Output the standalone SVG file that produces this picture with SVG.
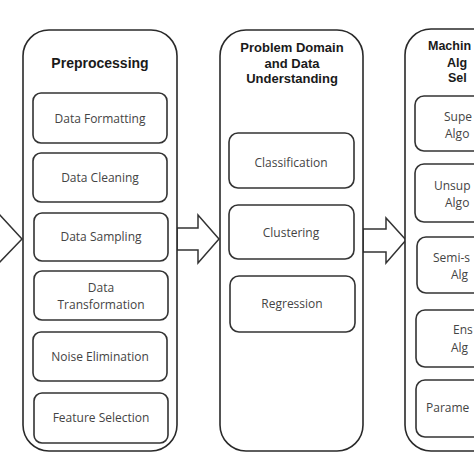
<svg xmlns="http://www.w3.org/2000/svg" width="474" height="474" viewBox="0 0 474 474">
<style>
.panel{fill:#fff;stroke:#2a2a2a;stroke-width:1.6}
.box{fill:#fff;stroke:#333;stroke-width:1.6}
.arrow{fill:#fff;stroke:#333;stroke-width:1.5;stroke-linejoin:miter}
.title{font-family:"Liberation Sans",Arial,sans-serif;font-weight:bold;fill:#1a1a1a;text-anchor:middle}
.lbl{font-family:"Open Sans","Liberation Sans",sans-serif;font-size:12px;fill:#444;text-anchor:middle}
.frag{font-family:"Open Sans","Liberation Sans",sans-serif;font-size:12px;fill:#444}
.ftitle{font-family:"Liberation Sans",Arial,sans-serif;font-weight:bold;font-size:12.5px;fill:#1a1a1a}
</style>
<rect width="474" height="474" fill="#fff"/>
<g id="connectors">
<polygon class="arrow" points="-30,228 -1,228 -1,214 22,239 -1,263 -1,250 -30,250"/>
<polygon class="arrow" points="177,228 198,228 198,215 219,239 198,263 198,250 177,250"/>
<polygon class="arrow" points="363,229 386,229 386,218 406,240 386,263 386,252 363,252"/>
</g>
<g id="preprocessing">
<rect class="panel" x="23" y="30" width="154" height="421" rx="26"/>
<text class="title" x="100" y="68" font-size="14">Preprocessing</text>
</g>
<g id="data-formatting"><rect class="box" x="33" y="93" width="134" height="50" rx="8"/><text class="lbl" x="100" y="123">Data Formatting</text></g>
<g id="data-cleaning"><rect class="box" x="33" y="153" width="134" height="49" rx="8"/><text class="lbl" x="100" y="182">Data Cleaning</text></g>
<g id="data-sampling"><rect class="box" x="34" y="213" width="134" height="48" rx="8"/><text class="lbl" x="101" y="241">Data Sampling</text></g>
<g id="data-transformation"><rect class="box" x="34" y="271" width="134" height="49" rx="8"/><text class="lbl" x="101" y="292">Data</text><text class="lbl" x="101" y="309">Transformation</text></g>
<g id="noise-elimination"><rect class="box" x="33" y="332" width="134" height="49" rx="8"/><text class="lbl" x="100" y="361">Noise Elimination</text></g>
<g id="feature-selection"><rect class="box" x="34" y="393" width="134" height="50" rx="8"/><text class="lbl" x="101" y="422">Feature Selection</text></g>
<g id="problem-domain">
<rect class="panel" x="220" y="30" width="143" height="421" rx="26"/>
<text class="title" x="292" y="52" font-size="13">Problem Domain</text>
<text class="title" x="292" y="68" font-size="13">and Data</text>
<text class="title" x="292" y="83" font-size="13">Understanding</text>
</g>
<g id="classification"><rect class="box" x="229" y="133" width="125" height="55" rx="9"/><text class="lbl" x="291" y="167">Classification</text></g>
<g id="clustering"><rect class="box" x="229" y="205" width="125" height="54" rx="9"/><text class="lbl" x="291" y="237">Clustering</text></g>
<g id="regression"><rect class="box" x="230" y="276" width="125" height="56" rx="9"/><text class="lbl" x="292" y="308">Regression</text></g>
<g id="ml-selection">
<rect class="panel" x="405" y="29" width="120" height="422" rx="26"/>
<text class="ftitle" x="428" y="50">Machin</text>
<text class="ftitle" x="447" y="67">Alg</text>
<text class="ftitle" x="448" y="82">Sel</text>
</g>
<g id="supervised"><rect class="box" x="415" y="96" width="90" height="55" rx="9"/><text class="frag" x="444" y="121">Supe</text><text class="frag" x="445" y="138">Algo</text></g>
<g id="unsupervised"><rect class="box" x="415" y="164" width="90" height="58" rx="9"/><text class="frag" x="434" y="190">Unsup</text><text class="frag" x="445" y="207">Algo</text></g>
<g id="semi-supervised"><rect class="box" x="417" y="237" width="90" height="56" rx="9"/><text class="frag" x="433" y="262">Semi-s</text><text class="frag" x="451" y="279">Alg</text></g>
<g id="ensemble"><rect class="box" x="416" y="310" width="90" height="57" rx="9"/><text class="frag" x="453" y="334">Ens</text><text class="frag" x="451" y="352">Alg</text></g>
<g id="parameter"><rect class="box" x="416" y="380" width="90" height="57" rx="9"/><text class="frag" x="426" y="412">Parame</text></g>
</svg>
